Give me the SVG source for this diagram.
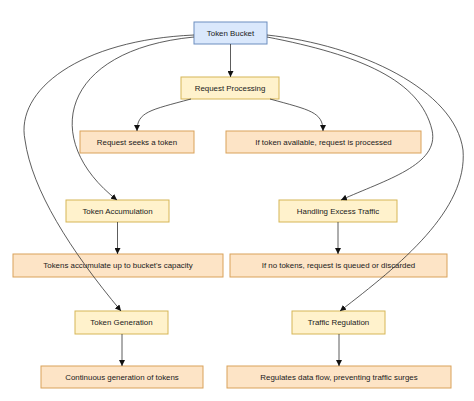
<svg xmlns="http://www.w3.org/2000/svg" width="474" height="401" viewBox="0 0 474 401">
<style>
.blue{fill:#dae8fc;stroke:#6c8ebf;stroke-width:1}
.yel{fill:#fff2cc;stroke:#d6b656;stroke-width:1}
.org{fill:#fde4c6;stroke:#d9a25a;stroke-width:1}
text{font-family:"Liberation Sans",Arial,Helvetica,sans-serif;font-size:7.9px;fill:#1a1a1a;text-anchor:middle;dominant-baseline:central}
.e{fill:none;stroke:#333;stroke-width:0.8;marker-end:url(#ah)}
</style>
<defs>
<marker id="ah" viewBox="0 0 10 10" refX="10" refY="5" markerWidth="6" markerHeight="6" markerUnits="userSpaceOnUse" orient="auto">
<path d="M0,0 L10,5 L0,10 Z" fill="#111"/>
</marker>
</defs>
<rect width="474" height="401" fill="#fff"/>
<g id="n-bucket"><rect class="blue" x="194" y="22" width="73" height="22"/><text x="230.5" y="33">Token Bucket</text></g>
<g id="n-reqproc"><rect class="yel" x="181" y="77" width="98" height="22"/><text x="230" y="88">Request Processing</text></g>
<g id="n-seeks"><rect class="org" x="80" y="131" width="114" height="22"/><text x="137" y="142">Request seeks a token</text></g>
<g id="n-avail"><rect class="org" x="226" y="131" width="195" height="22"/><text x="323.5" y="142">If token available, request is processed</text></g>
<g id="n-accum"><rect class="yel" x="66" y="200" width="103" height="22"/><text x="117.5" y="211">Token Accumulation</text></g>
<g id="n-excess"><rect class="yel" x="279" y="200" width="118" height="22"/><text x="338" y="211">Handling Excess Traffic</text></g>
<g id="n-accumdesc"><rect class="org" x="13" y="254" width="210" height="23"/><text x="118" y="265.5">Tokens accumulate up to bucket's capacity</text></g>
<g id="n-notokens"><rect class="org" x="230" y="254" width="217" height="23"/><text x="338.5" y="265.5">If no tokens, request is queued or discarded</text></g>
<g id="n-gen"><rect class="yel" x="75" y="311" width="93" height="23"/><text x="121.5" y="322.5">Token Generation</text></g>
<g id="n-reg"><rect class="yel" x="292" y="311" width="93" height="23"/><text x="338.5" y="322.5">Traffic Regulation</text></g>
<g id="n-gendesc"><rect class="org" x="41" y="366" width="162" height="22"/><text x="122" y="377">Continuous generation of tokens</text></g>
<g id="n-regdesc"><rect class="org" x="227" y="366" width="224" height="22"/><text x="339" y="377">Regulates data flow, preventing traffic surges</text></g>
<g id="connectors">
<path class="e" d="M230.5,44 L230.5,77"/>
<path class="e" d="M191,99 C150,110 137,112 137,131"/>
<path class="e" d="M270,99 C310,110 323,112 323,131"/>
<path class="e" d="M194,37 C60,50 40,140 117,200"/>
<path class="e" d="M194,35 C80,40 15,90 25,140 C32,190 70,250 121,311"/>
<path class="e" d="M267,37 C360,55 420,80 432,130 C440,165 385,180 341,200"/>
<path class="e" d="M267,35 C360,45 455,90 463,150 C468,210 400,265 340,311"/>
<path class="e" d="M117.5,222 L117.5,254"/>
<path class="e" d="M338,222 L338,254"/>
<path class="e" d="M122,334 L122,366"/>
<path class="e" d="M339,334 L339,366"/>
</g>
</svg>
